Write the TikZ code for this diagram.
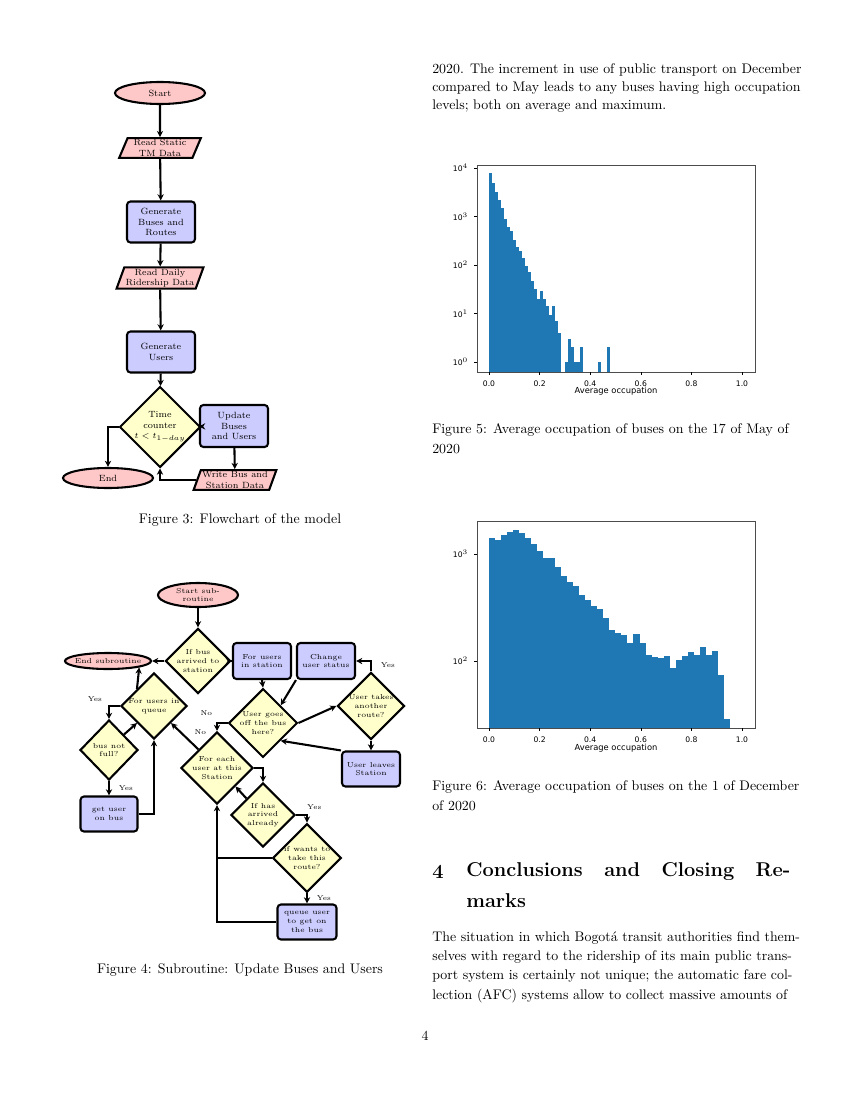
\documentclass[tikz,border=0pt]{standalone}
\usetikzlibrary{shapes.geometric,arrows.meta}
\usepackage{fontspec}
\newfontfamily\plotfont{DejaVu Sans}
\newcommand\px[1]{#1*0.72pt}
\definecolor{mplblue}{RGB}{31,119,180}
\definecolor{termc}{RGB}{255,200,200}
\definecolor{procc}{RGB}{204,204,255}
\definecolor{decc}{RGB}{255,255,204}
\tikzset{
 base/.style={draw,line width=1.5pt,inner sep=1pt,align=center},
 term/.style={base,ellipse,fill=termc},
 io/.style={base,trapezium,trapezium left angle=70,trapezium right angle=110,trapezium stretches=true,fill=termc},
 proc/.style={base,rectangle,rounded corners=2.5pt,fill=procc},
 dec/.style={base,diamond,fill=decc,inner sep=0pt},
 arr/.style={line width=1.5pt,-{Stealth[length=4.5pt,width=4.5pt]}},
 lbl/.style={font=\fontsize{5}{6}\selectfont},
 tick/.style={font=\plotfont\fontsize{5.5}{6}\selectfont},
 body/.style={anchor=west,font=\fontsize{10}{13.6}\selectfont,inner sep=0pt},
}
\begin{document}
\begin{tikzpicture}[x=0.72pt,y=-0.72pt]
\useasboundingbox (0,0) rectangle (850,1100);
% ===== Figure 3 =====
\begin{scope}[font=\fontsize{6.5}{7.5}\selectfont]
\node[term,minimum width=\px{90},minimum height=\px{22}] (start) at (160,93) {Start};
\node[io,minimum width=\px{82},minimum height=\px{19}] (rs) at (160,148) {Read Static\\TM Data};
\node[proc,minimum width=\px{68},minimum height=\px{41}] (gb) at (161,222) {Generate\\Buses and\\Routes};
\node[io,minimum width=\px{82},minimum height=\px{19}] (rd) at (160,278) {Read Daily\\Ridership Data};
\node[proc,minimum width=\px{68},minimum height=\px{41}] (gu) at (161,352) {Generate\\Users};
\node[dec,minimum width=\px{78},minimum height=\px{78}] (tc) at (160,427) {Time\\counter\\$t<t_{1-day}$};
\node[proc,minimum width=\px{68},minimum height=\px{42}] (ub) at (234,426) {Update\\Buses\\and Users};
\node[io,minimum width=\px{76},minimum height=\px{19}] (wb) at (235,480) {Write Bus and\\Station Data};
\node[term,minimum width=\px{90},minimum height=\px{20}] (end) at (108,478) {End};
\end{scope}
\draw[arr] (start) -- (rs);
\draw[arr] (rs) -- (gb);
\draw[arr] (gb) -- (rd);
\draw[arr] (rd) -- (gu);
\draw[arr] (gu) -- (tc);
\draw[arr] (tc) -- (ub);
\draw[arr] (ub) -- (wb);
\draw[arr] (tc.west) -| (end.north);
\draw[arr] (wb.west) -| (tc.south);
\node[font=\fontsize{10}{12}\selectfont] (cap3) at (240,520) {Figure 3: Flowchart of the model};
% ===== Figure 4 =====
\begin{scope}[font=\fontsize{5.2}{6.2}\selectfont]
\node[term,minimum width=\px{80},minimum height=\px{24}] (ss) at (198,595) {Start sub-\\routine};
\node[dec,minimum width=\px{62},minimum height=\px{64}] (ib) at (198,661) {If bus\\arrived to\\station};
\node[term,minimum width=\px{76},minimum height=\px{16},inner xsep=-2pt] (es) at (108,661) {End subroutine};
\node[proc,minimum width=\px{58},minimum height=\px{36}] (fus) at (262,661) {For users\\in station};
\node[proc,minimum width=\px{58},minimum height=\px{36}] (cus) at (326,661) {Change\\user status};
\node[dec,minimum width=\px{64},minimum height=\px{64}] (uta) at (371,706) {User takes\\another\\route?};
\node[proc,minimum width=\px{58},minimum height=\px{35}] (uls) at (371,769) {User leaves\\Station};
\node[dec,minimum width=\px{64},minimum height=\px{64}] (ugo) at (263,723) {User goes\\off the bus\\here?};
\node[dec,minimum width=\px{60},minimum height=\px{58}] (fuq) at (154,706) {For users in\\queue};
\node[dec,minimum width=\px{58},minimum height=\px{60}] (bnf) at (109,750) {bus not\\full?};
\node[proc,minimum width=\px{57},minimum height=\px{35}] (gub) at (109,814) {get user\\on bus};
\node[dec,minimum width=\px{64},minimum height=\px{64}] (feu) at (217,768) {For each\\user at this\\Station};
\node[dec,minimum width=\px{64},minimum height=\px{64}] (iha) at (263,815) {If has\\arrived\\already};
\node[dec,minimum width=\px{64},minimum height=\px{64}] (iwt) at (307,858) {if wants to\\take this\\route?};
\node[proc,minimum width=\px{59},minimum height=\px{35}] (qu) at (307,922) {queue user\\to get on\\the bus};
\end{scope}
\draw[arr] (ss) -- (ib);
\draw[arr] (ib.west) -- (es.east);
\draw[arr] (ib.east) -- (fus.west);
\draw[arr] (fus.south) -- (ugo.north);
\draw[arr] (cus.south west) -- (ugo.north east);
\draw[arr] (ugo.east) -- (uta.west);
\draw[arr] (uta.north) |- (cus.east) node[lbl,pos=0.3,right=3pt] {Yes};
\draw[arr] (uta.south) -- (uls.north);
\draw[arr] (uls.north west) -- (ugo.south east);
\draw[arr] (ugo.west) -| (feu.north) node[lbl,pos=0.4,above left=1pt] {No};
\draw[arr] (feu.north west) -- (fuq.south east) node[lbl,pos=0.35,above right=0pt] {No};
\draw[arr] (fuq.west) -| (bnf.north) node[lbl,pos=0.6,above left=1pt] {Yes};
\draw[arr] (bnf.north east) -- (fuq.south west);
\draw[arr] (bnf.south) -- (gub.north) node[lbl,midway,right=3pt] {Yes};
\draw[arr] (gub.east) -| (fuq.south);
\draw[arr] (fuq.north west) -- (es.south east);
\draw[arr] (feu.east) -| (iha.north);
\draw[arr] (iha.north west) -- (feu.south east);
\draw[arr] (iha.east) -| (iwt.north) node[lbl,pos=0.25,above right=0pt] {Yes};
\draw[line width=1.5pt] (iwt.west) -- (feu.south |- iwt.west);
\draw[arr] (iwt.south) -- (qu.north) node[lbl,midway,right=3pt] {Yes};
\draw[arr] (qu.west) -| (feu.south);
\node[font=\fontsize{10}{12}\selectfont] (cap4) at (240,970) {Figure 4: Subroutine: Update Buses and Users};
% ===== Text right column =====
\node[body] (t1) at (432,70) {2020. The increment in use of public transport on December};
\node[body] (t2) at (432,88) {compared to May leads to any buses having high occupation};
\node[body] (t3) at (432,106) {levels; both on average and maximum.};
% ===== Histogram 1 =====
\foreach \i/\h in {0/3.9,1/3.7,2/3.5,3/3.35,4/3.17,5/2.95,6/2.78,7/2.7,8/2.52,9/2.37,10/2.28,11/2.15,12/1.97,13/1.86,14/1.68,15/1.5,16/1.3,17/1.47,18/1.3,19/1.15,20/0.97,21/1.15,22/0.85,23/0.59,25/0,26/0.48,27/0.3,28/0,29/0,30/0.3,36/0,39/0.3}
  \fill[mplblue] ({489+3.02*\i},372) rectangle ({489+3.02*(\i+1)},{362-48.5*\h});
\draw[line width=0.5pt,black!70] (477,165) rectangle (755,372);
\foreach \v in {0.0,0.2,0.4,0.6,0.8,1.0}{
  \draw[line width=0.4pt] ({489+253*\v},372) -- ++(0,3);
  \node[tick,anchor=north] at ({489+253*\v},376) {\v};}
\foreach \e in {0,...,4}{
  \draw[line width=0.4pt] (477,{362-48.5*\e}) -- ++(-3,0);
  \node[tick,anchor=east] at (473,{362-48.5*\e}) {10$^{\e}$};}
\node[tick,font=\plotfont\fontsize{6}{7}\selectfont] (xl1) at (616,391) {Average occupation};
\node[body] (c5a) at (432,430) {Figure 5: Average occupation of buses on the 17 of May of};
\node[body] (c5b) at (432,449) {2020};
% ===== Histogram 2 =====
\foreach \h [count=\j from 0] in {3.15,3.13,3.18,3.21,3.22,3.2,3.15,3.09,3.03,2.96,2.96,2.88,2.79,2.74,2.70,2.62,2.57,2.51,2.49,2.40,2.29,2.26,2.24,2.17,2.25,2.17,2.06,2.04,2.03,2.05,1.93,2.01,2.05,2.08,2.06,2.13,2.06,2.09,1.87,1.46}
  \fill[mplblue] ({489+6.02*\j},728) rectangle ({489+6.02*(\j+1)},{554+107*(3-\h)});
\draw[line width=0.5pt,black!70] (477,521) rectangle (755,728);
\foreach \v in {0.0,0.2,0.4,0.6,0.8,1.0}{
  \draw[line width=0.4pt] ({489+253*\v},728) -- ++(0,3);
  \node[tick,anchor=north] at ({489+253*\v},732) {\v};}
\foreach \e/\y in {3/554,2/661}{
  \draw[line width=0.4pt] (477,\y) -- ++(-3,0);
  \node[tick,anchor=east] at (473,\y) {10$^{\e}$};}
\node[tick,font=\plotfont\fontsize{6}{7}\selectfont] (xl2) at (616,748) {Average occupation};
\node[body] (c6a) at (432,787) {Figure 6: Average occupation of buses on the 1 of December};
\node[body] (c6b) at (432,806) {of 2020};
% ===== Section =====
\node[body,font=\fontsize{14.4}{18}\bfseries] (s4) at (432,872) {4};
\node[body,font=\fontsize{14.4}{18}\bfseries,text width=\px{324},align=justify] (st) at (466,872) {Conclusions\hfill and\hfill Closing\hfill Re-};
\node[body,font=\fontsize{14.4}{18}\bfseries] (st2) at (466,901) {marks};
\node[body] (p1) at (432,938) {The situation in which Bogotá transit authorities find them-};
\node[body] (p2) at (432,957) {selves with regard to the ridership of its main public trans-};
\node[body] (p3) at (432,976) {port system is certainly not unique; the automatic fare col-};
\node[body] (p4) at (432,996) {lection (AFC) systems allow to collect massive amounts of};
\node[font=\fontsize{10}{12}\selectfont] (pg) at (425,1036) {4};
\end{tikzpicture}
\end{document}
